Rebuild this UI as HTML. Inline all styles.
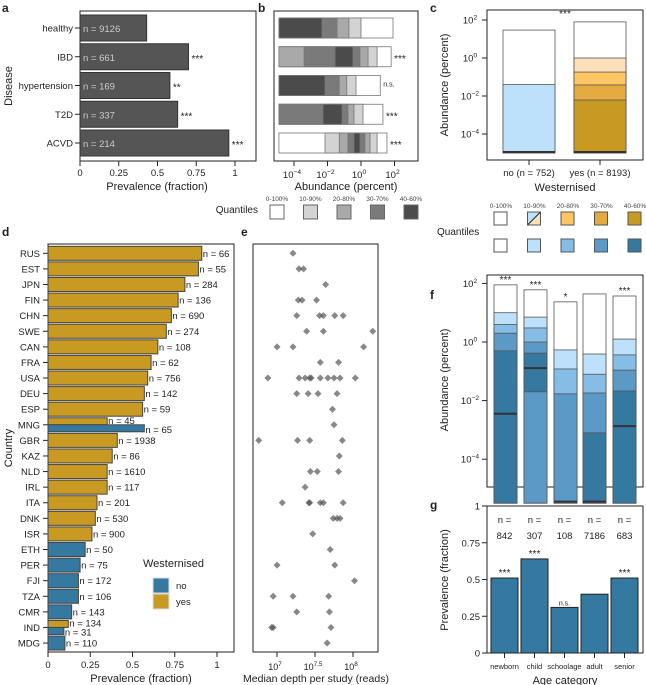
<!DOCTYPE html>
<html><head><meta charset="utf-8"><style>
html,body{margin:0;padding:0;background:#fff;}
svg{display:block;font-family:"Liberation Sans",sans-serif;}
</style></head><body>
<svg id="fig" width="646" height="685" viewBox="0 0 646 685"></svg>
<script>
// ---- data ----
const diseases=["healthy","IBD","hypertension","T2D","ACVD"];
const diseasePrev=[0.43,0.70,0.58,0.63,0.96];
const diseaseN=[9126,661,169,337,214];
const diseaseSig=["","***","**","***","***"];
const diseaseQ=[
 [-4.9,-4.9,-4.9,-4.9,-4.9,-2.33,-1.43,-0.72,0,1.91],
 [-4.9,-4.9,-4.9,-3.4,-1.55,-0.48,-0.06,0.42,0.96,1.8],
 [-4.9,-4.9,-4.9,-4.9,-4.9,-2.15,-1.3,-0.85,-0.3,1.15],
 [-4.9,-4.9,-4.9,-4.9,-2.27,-1.13,-0.78,-0.42,0.12,1.31],
 [-4.9,-2.15,-1.3,-0.78,-0.42,-0.06,0.24,0.54,0.96,1.55]];
const diseaseQSig=["","***","n.s.","***","***"];
const westLabels=["no (n = 752)","yes (n = 8193)"];
const westQ=[[-5,-5,-5,-5,-5,-5,-5,-5,-1.4,1.47],[-5,-5,-5,-5,-5,-2.21,-1.42,-0.74,0,1.9]];
const countries=["RUS","EST","JPN","FIN","CHN","SWE","CAN","FRA","USA","DEU","ESP","MNG","GBR","KAZ","NLD","IRL","ITA","DNK","ISR","ETH","PER","FJI","TZA","CMR","IND","MDG"];
const yesPrev=[0.91,0.89,0.81,0.77,0.73,0.70,0.65,0.61,0.59,0.57,0.56,0.35,0.41,0.38,0.35,0.35,0.29,0.28,0.26,null,null,null,null,null,0.12,null];
const yesN=[66,55,284,136,690,274,108,62,756,142,59,45,1938,86,1610,117,201,530,900,null,null,null,null,null,134,null];
const noPrev=[null,null,null,null,null,null,null,null,null,null,null,0.57,null,null,null,null,null,null,null,0.22,0.19,0.18,0.18,0.14,0.094,0.10];
const noN=[null,null,null,null,null,null,null,null,null,null,null,65,null,null,null,null,null,null,null,50,75,172,106,143,31,110];
const depths=[[7.21],[7.29,7.35],[7.64],[7.28,7.33,7.52],[7.26,7.56,7.61,7.76,7.87],[7.39,7.61,8.26],[7.0,7.21,8.14],[7.57,7.81],
[6.88,7.29,7.37,7.43,7.45,7.57,7.67,7.75,7.83,8.03],[7.26,7.41,7.54,7.79],[7.73],[7.75],[6.76,7.27,7.43,7.86],[7.82],[7.44,7.53,7.81],[7.37],
[7.07,7.42,7.43,7.57,7.61,7.87],[7.74,7.79,7.83],[7.47],[7.70],[7.0,7.76],[8.02],[6.95,7.21,7.68],[7.26,7.69],[6.93,6.95,7.71],[7.66]];
const ages=["newborn","child","schoolage","adult","senior"];
const ageQ=[[-5.5,-5.5,-5.5,-5.5,-5.5,-0.3,0.3,0.6,1.0,1.95],[-5.5,-5.5,-5.5,-5.5,-1.7,-0.38,0,0.48,0.85,1.78],[-5.5,-5.5,-5.5,-5.5,-5.5,-5.5,-1.77,-0.92,-0.27,1.37],[-5.5,-5.5,-5.5,-5.5,-5.5,-3.1,-1.74,-1.1,-0.41,1.64],[-5.5,-5.5,-5.5,-5.5,-5.5,-1.67,-0.96,-0.44,0.1,1.57]];
const ageMed=[-2.45,-0.89,-5.45,-5.45,-2.87];
const ageQSig=["***","***","*","","***"];
const agePrev=[0.51,0.64,0.31,0.40,0.51];
const ageN=[842,307,108,7186,683];
const ageSig=["***","***","n.s.","","***"];
const gray=["#ffffff","#d3d3d3","#a9a9a9","#7a7a7a","#4b4b4b"];
const gold=["#ffffff","#fde0bb","#fdc662","#e3ab40","#c99a22"];
const blue=["#ffffff","#bde0fb","#85bde6","#5b9ac7","#3579a1"];
const qlabels=["0-100%","10-90%","20-80%","30-70%","40-60%"];

const svg=document.getElementById('fig');const NS='http://www.w3.org/2000/svg';
function mk(tag,a,parent){const e=document.createElementNS(NS,tag);for(const k in a)e.setAttribute(k,a[k]);(parent||svg).appendChild(e);return e;}
function tx(x,y,s,size,anchor,extra){const e=mk('text',Object.assign({x:x,y:y,'font-size':size,'text-anchor':anchor||'start',fill:'#222'},extra||{}));e.textContent=s;return e;}
function sup(x,y,base,exp,size,anchor){const e=tx(x,y,'',size,anchor||'middle');const t1=document.createElementNS(NS,'tspan');t1.textContent=base;e.appendChild(t1);const t2=document.createElementNS(NS,'tspan');t2.setAttribute('dy','-4');t2.setAttribute('font-size',size*0.7);t2.textContent=exp;e.appendChild(t2);return e;}
function line(x1,y1,x2,y2,c,w){return mk('line',{x1:x1,y1:y1,x2:x2,y2:y2,stroke:c||'#222','stroke-width':w||1});}
let el;
// panel letters
[["a",2,12],["b",258,12],["c",430,12],["d",2,236],["e",241,236],["f",430,299],["g",430,509]].forEach(p=>{el=tx(p[1],p[2],p[0],12,'start',{'font-weight':'bold'});

});

// ---- panel a ----
const ax=v=>80+v*155; const ay=i=>28+i*28.75;
el=mk('rect',{x:80,y:11,width:176,height:150,fill:'none',stroke:'#222'});


diseases.forEach((d,i)=>{
 el=mk('rect',{x:ax(0),y:ay(i)-13,width:ax(diseasePrev[i])-ax(0),height:26,fill:'#555',stroke:'#333'});
 
 
 el=tx(83,ay(i)+4,'n = '+diseaseN[i],9.5,'start',{fill:'#ccc'});
 
 
 if(diseaseSig[i]){el=tx(ax(diseasePrev[i])+3,ay(i)+5,diseaseSig[i],10);
 
 }
 line(75,ay(i),80,ay(i));
 el=tx(73,ay(i)+3.5,d,9.5,'end');
 
 
});
[0,0.25,0.5,0.75,1].forEach(v=>{line(ax(v),161,ax(v),166);el=tx(ax(v),176,String(v),9.5,'middle');

});
el=tx(157,190,'Prevalence (fraction)',11,'middle');


el=tx(0,0,'Disease',11,'middle',{transform:'translate(12,86) rotate(-90)'});



// quantile bar helper
function qbar(q,pal,horiz,sc,c0,w,name){
 for(let k=0;k<5;k++){const lo=q[k],hi=q[9-k];let r;
  if(horiz){r=mk('rect',{x:sc(lo),y:c0,width:Math.max(0,sc(hi)-sc(lo)),height:w,fill:pal[k],stroke:'#777','stroke-width':0.8});}
  else{r=mk('rect',{x:c0,y:sc(hi),width:w,height:Math.max(0,sc(lo)-sc(hi)),fill:pal[k],stroke:'#555','stroke-width':0.8});}
  
  }
}
// ---- panel b ----
const bx=v=>361+v*16.75;
el=mk('rect',{x:274,y:11,width:144,height:150,fill:'none',stroke:'#222'});


diseases.forEach((d,i)=>{qbar(diseaseQ[i],gray,true,bx,ay(i)-10,20,'abund-'+d);
 if(diseaseQSig[i]){el=tx(bx(diseaseQ[i][9])+3,ay(i)+(diseaseQSig[i]=='n.s.'?1:5),diseaseQSig[i],diseaseQSig[i]=='n.s.'?7:10);
 
 }});
[-4,-2,0,2].forEach(v=>{line(bx(v),161,bx(v),166);el=sup(bx(v)-2,178,'10',String(v).replace('-','\u2212'),9.5);

});
el=tx(346,190,'Abundance (percent)',11,'middle');


el=tx(258,213,'Quantiles',10,'end');


qlabels.forEach((l,k)=>{const x=270+k*33.5;
 el=mk('rect',{x:x,y:205,width:14,height:14,fill:gray[k],stroke:'#666'});
 
 
 el=tx(x+7,201,l,6.5,'middle',{fill:'#444'});
 
 });

// ---- panel c ----
const cy=v=>58-v*19;
el=mk('rect',{x:487,y:10,width:156,height:150,fill:'none',stroke:'#222'});


const cxs=[503,574];
westQ.forEach((q,i)=>{qbar(q,i==0?blue:gold,false,cy,cxs[i],52,'west-'+(i?'yes':'no'));
 line(cxs[i],cy(-4.95),cxs[i]+52,cy(-4.95),'#333',2);
 line(cxs[i]+26,160,cxs[i]+26,165);
 el=tx(cxs[i]+26,176,westLabels[i],9.5,'middle');
 
 });
[2,0,-2,-4].forEach(v=>{line(482,cy(v),487,cy(v));el=sup(470,cy(v)+3.5,'10',String(v).replace('-','\u2212'),9.5);

});
el=tx(565,17,'***',10,'middle');


el=tx(565,191,'Westernised',11,'middle');


el=tx(0,0,'Abundance (percent)',11,'middle',{transform:'translate(448,85) rotate(-90)'});


el=tx(437,235,'Quantiles',10,'start');


qlabels.forEach((l,k)=>{const x=494+k*33.5;
 el=tx(x+7,208,l,6.5,'middle',{fill:'#444'});
 
 
 el=mk('rect',{x:x,y:212,width:13,height:13,fill:gold[k],stroke:'#555'});
 
 
 if(k==1){el=mk('polygon',{points:(x)+',212 '+(x+13)+',212 '+x+',225',fill:blue[1]});
 
 
 line(x,225,x+13,212,'#222',1);mk('rect',{x:x,y:212,width:13,height:13,fill:'none',stroke:'#555'});}
 el=mk('rect',{x:x,y:239,width:13,height:13,fill:blue[k],stroke:'#555'});
 
 });

// ---- panel d ----
const dx=v=>48+v*169; const dy=i=>253.3+i*15.59;
el=mk('rect',{x:48,y:244,width:186,height:408,fill:'none',stroke:'#222'});


countries.forEach((c,i)=>{const both=yesPrev[i]!=null&&noPrev[i]!=null;
 line(43,dy(i),48,dy(i));
 el=tx(40,dy(i)+3.5,c,9.5,'end');
 
 
 if(yesPrev[i]!=null){const y0=both?dy(i)-7:dy(i)-7,h=both?7:14;
  el=mk('rect',{x:48,y:y0,width:dx(yesPrev[i])-48,height:h,fill:gold[4],stroke:'#444'});
  
  
  el=tx(dx(yesPrev[i])+1,both?dy(i)-1:dy(i)+3.5,'n = '+yesN[i],9.5);
  
  }
 if(noPrev[i]!=null){const y0=both?dy(i):dy(i)-7,h=both?7:14;
  el=mk('rect',{x:48,y:y0,width:dx(noPrev[i])-48,height:h,fill:blue[4],stroke:'#444'});
  
  
  el=tx(dx(noPrev[i])+1,both?dy(i)+8:dy(i)+3.5,'n = '+noN[i],9.5);
  
  }
});
[0,0.25,0.5,0.75,1].forEach(v=>{line(dx(v),652,dx(v),657);el=tx(dx(v),668,String(v),9.5,'middle');

});
el=tx(141,682,'Prevalence (fraction)',11,'middle');


el=tx(0,0,'Country',11,'middle',{transform:'translate(12,448) rotate(-90)'});


el=tx(143,567,'Westernised',11,'start');


el=mk('rect',{x:153,y:578,width:16,height:15,fill:blue[4],stroke:'#ddd'});


el=mk('rect',{x:153,y:594,width:16,height:15,fill:gold[4],stroke:'#ddd'});


el=tx(176,589,'no',9.5);


el=tx(176,605,'yes',9.5);



// ---- panel e ----
const ex=v=>277+(v-7)*76;
el=mk('rect',{x:253,y:244,width:125,height:408,fill:'none',stroke:'#222'});


depths.forEach((arr,i)=>arr.forEach(v=>{const x=ex(v),y=dy(i);
 el=mk('polygon',{points:x+','+(y-3.5)+' '+(x+3.5)+','+y+' '+x+','+(y+3.5)+' '+(x-3.5)+','+y,fill:'#555','fill-opacity':0.7});
 
 }));
[[7,'7'],[7.5,'7.5'],[8,'8']].forEach(t=>{line(ex(t[0]),652,ex(t[0]),657);el=sup(ex(t[0])-2,670,'10',t[1],9);

});
el=tx(316,682,'Median depth per study (reads)',10.5,'middle');



// ---- panel f ----
const fy=v=>342-v*29.3; const fxs=[494,524,554,583,613];
el=mk('rect',{x:487,y:275,width:156,height:212,fill:'none',stroke:'#222'});


ages.forEach((a,i)=>{qbar(ageQ[i],blue,false,fy,fxs[i],23,'age-abund-'+a);
 line(fxs[i],fy(ageMed[i]),fxs[i]+23,fy(ageMed[i]),'#333',2);
 if(ageQSig[i]){el=tx(fxs[i]+11.5,fy(ageQ[i][9])-2,ageQSig[i],10,'middle');
 
 }});
[2,0,-2,-4].forEach(v=>{line(482,fy(v),487,fy(v));el=sup(470,fy(v)+3.5,'10',String(v).replace('-','\u2212'),9.5);

});
el=tx(0,0,'Abundance (percent)',11,'middle',{transform:'translate(448,380) rotate(-90)'});



// ---- panel g ----
const gy=v=>653-v*147; const gxs=[491,521,551,581,611];
el=mk('rect',{x:487,y:506,width:156,height:147,fill:'none',stroke:'#222'});


ages.forEach((a,i)=>{
 el=mk('rect',{x:gxs[i],y:gy(agePrev[i]),width:27,height:gy(0)-gy(agePrev[i]),fill:blue[4],stroke:'#222'});
 
 
 if(ageSig[i]){el=tx(gxs[i]+13.5,gy(agePrev[i])-2,ageSig[i],ageSig[i]=='n.s.'?7:10,'middle');
 
 }
 el=tx(gxs[i]+13.5,523,'n =',9.5,'middle');
 
 
 el=tx(gxs[i]+13.5,539,String(ageN[i]),9.5,'middle');
 
 
 line(gxs[i]+13.5,653,gxs[i]+13.5,658);
 el=tx(gxs[i]+13.5,669,a,7.5,'middle');
 
 });
[0,0.25,0.5,0.75,1].forEach(v=>{line(482,gy(v),487,gy(v));el=tx(480,gy(v)+3.5,String(v),9.5,'end');

});
el=tx(565,684,'Age category',11,'middle');


el=tx(0,0,'Prevalence (fraction)',11,'middle',{transform:'translate(448,580) rotate(-90)'});


</script>
</body></html>
